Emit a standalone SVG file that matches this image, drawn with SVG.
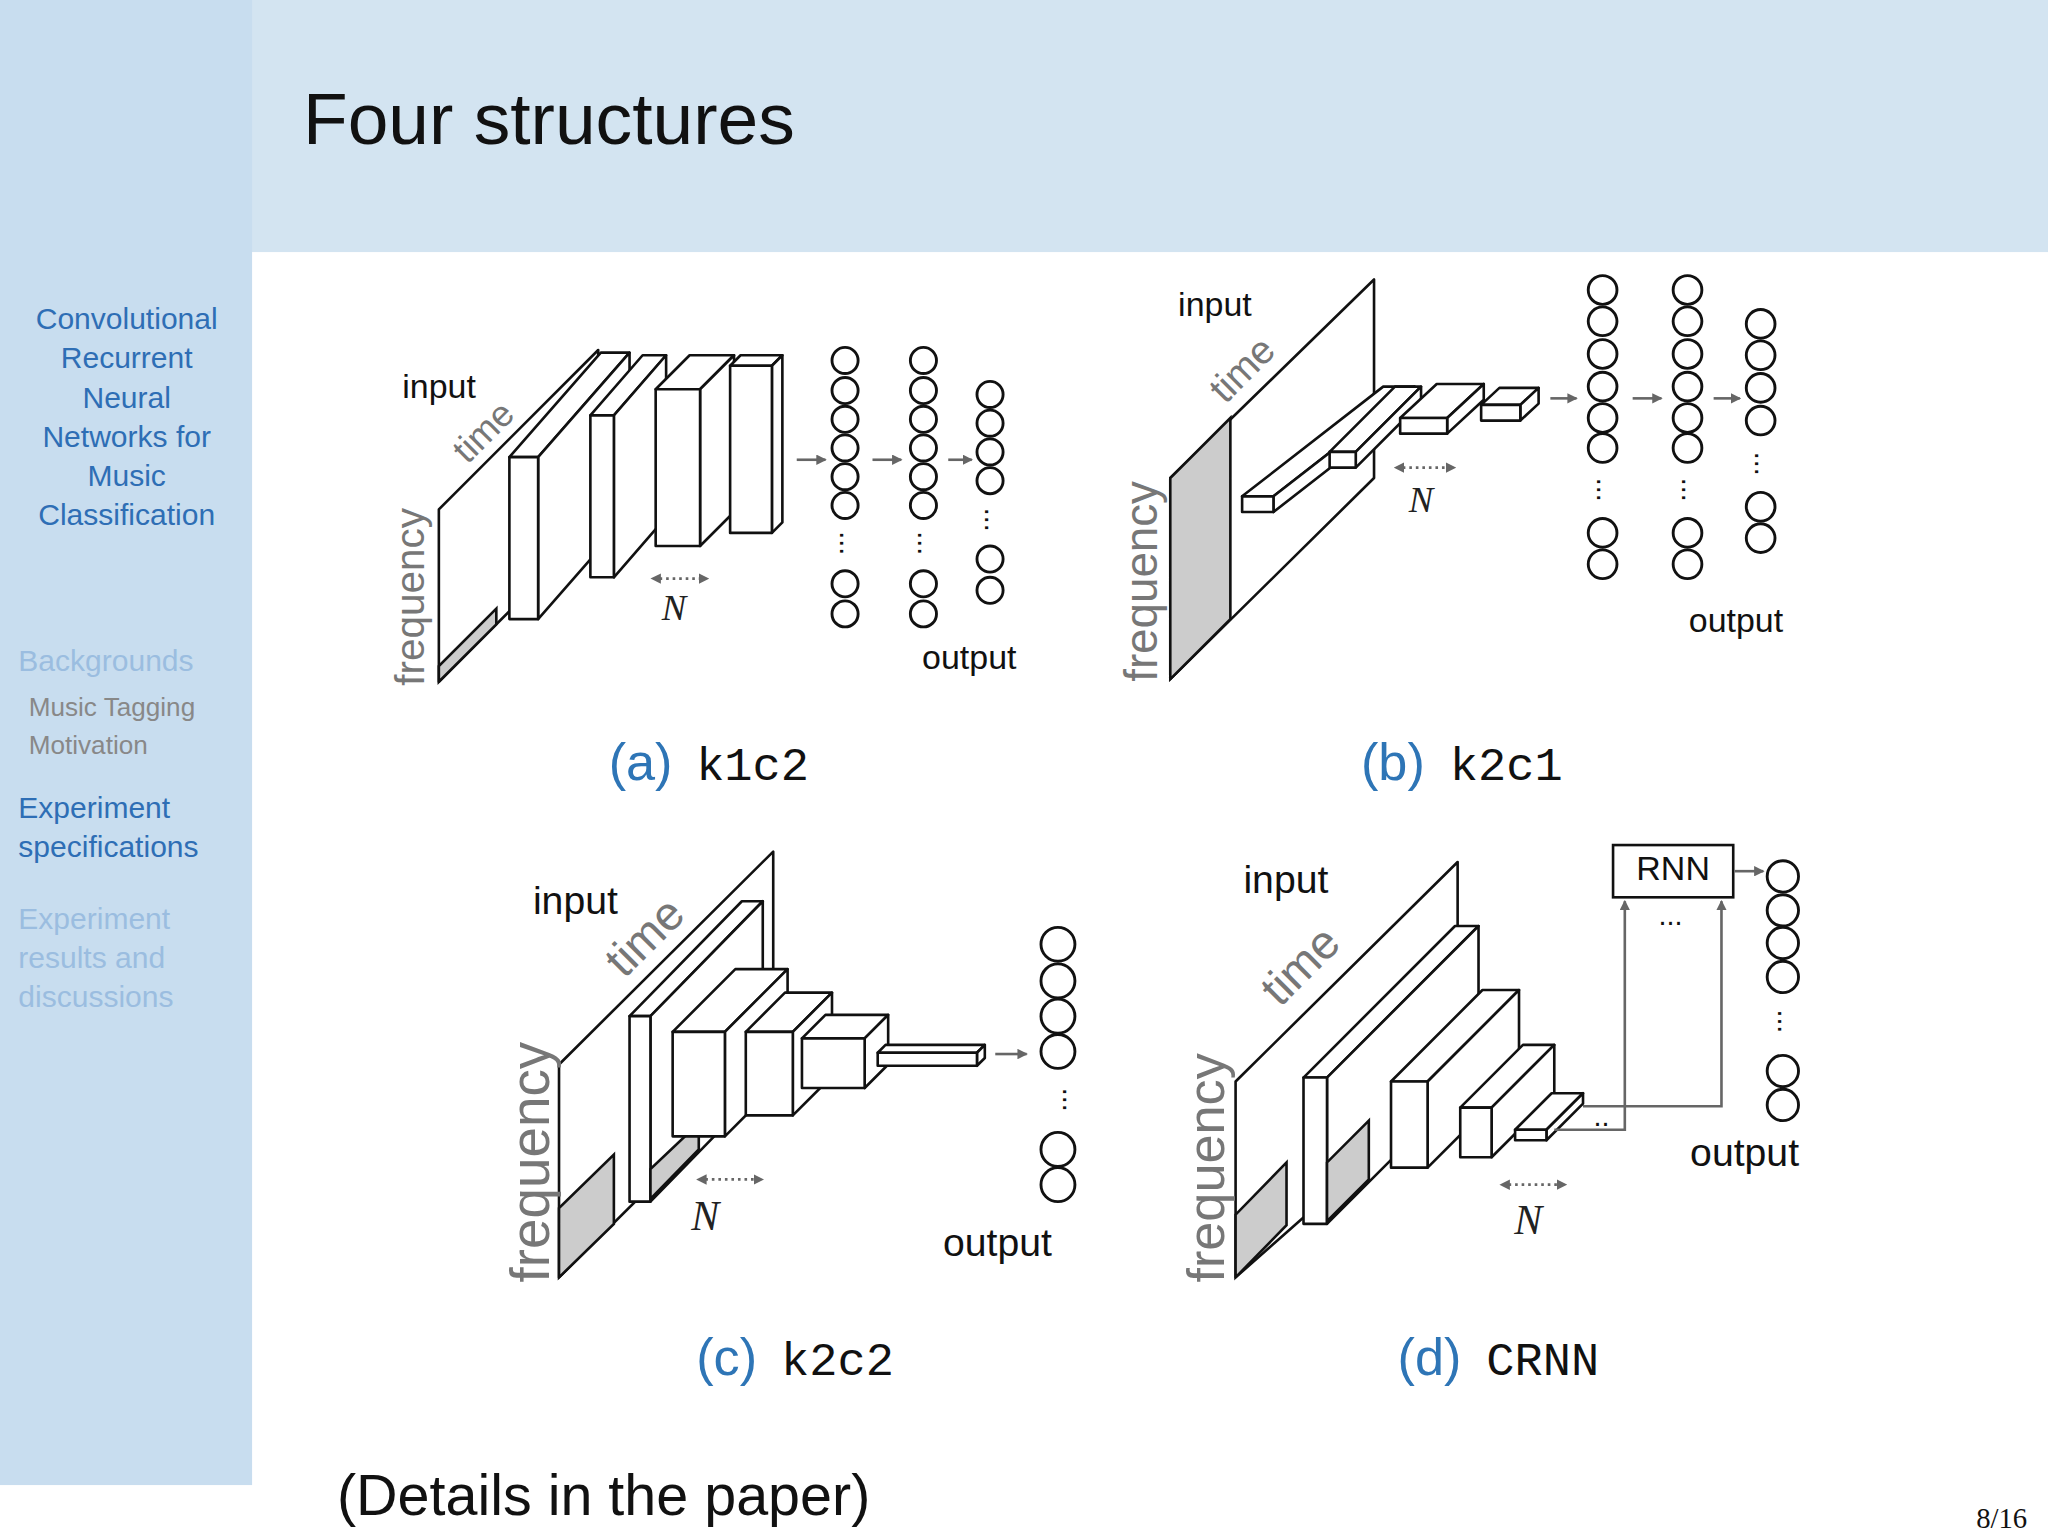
<svg xmlns="http://www.w3.org/2000/svg" width="2048" height="1536" viewBox="0 0 2048 1536">
<defs>
<marker id="ah" markerWidth="8" markerHeight="8" refX="7" refY="4" orient="auto" markerUnits="userSpaceOnUse"><path d="M0,0 L8,4 L0,8 z" fill="#666"/></marker>
<marker id="ahs" markerWidth="8" markerHeight="8" refX="1" refY="4" orient="auto-start-reverse" markerUnits="userSpaceOnUse"><path d="M0,0 L8,4 L0,8 z" fill="#666"/></marker>
<style>
.s{font-family:"Liberation Sans","DejaVu Sans",sans-serif}
.m{font-family:"Liberation Mono",monospace;font-size:36px;fill:#111}
.cap{font-family:"Liberation Sans",sans-serif;font-size:40px;fill:#2e75b6}
.lbl{font-family:"Liberation Sans",sans-serif;font-size:26px;fill:#111}
.rot{font-family:"Liberation Sans",sans-serif;font-size:28px;fill:#777}
.n{font-family:"Liberation Serif",serif;font-style:italic;font-size:28px;fill:#222}
.b{fill:#fff;stroke:#111;stroke-width:2;stroke-linejoin:round}
.g{fill:#ccc;stroke:#111;stroke-width:2}
.c{fill:#fff;stroke:#111;stroke-width:2.2}
.ar{stroke:#666;stroke-width:2;fill:none;marker-end:url(#ah)}
.da{stroke:#666;stroke-width:2;stroke-dasharray:2 3;fill:none;marker-end:url(#ahs);marker-start:url(#ahs)}
.dots{font-family:"Liberation Sans",sans-serif;font-size:22px;fill:#111}
.sb{font-family:"Liberation Sans",sans-serif;font-size:23px}
</style>
</defs>
<g transform="scale(1.30612)">
<rect x="0" y="0" width="1568" height="193" fill="#d3e4f1"/>
<rect x="0" y="0" width="193" height="1137" fill="#c8ddef"/>
<text x="232" y="110" class="s" font-size="56" fill="#111">Four structures</text>
<g class="sb" fill="#2e6eb5" text-anchor="middle">
<text x="97" y="252">Convolutional</text><text x="97" y="282">Recurrent</text><text x="97" y="312">Neural</text><text x="97" y="342">Networks for</text><text x="97" y="372">Music</text><text x="97" y="402">Classification</text>
</g>
<text x="14" y="514" class="sb" fill="#9bbde0">Backgrounds</text>
<text x="22" y="548" class="s" font-size="20" fill="#888">Music Tagging</text>
<text x="22" y="577" class="s" font-size="20" fill="#888">Motivation</text>
<text x="14" y="626" class="sb" fill="#2e6eb5">Experiment</text>
<text x="14" y="656" class="sb" fill="#2e6eb5">specifications</text>
<text x="14" y="711" class="sb" fill="#9bbde0">Experiment</text>
<text x="14" y="741" class="sb" fill="#9bbde0">results and</text>
<text x="14" y="771" class="sb" fill="#9bbde0">discussions</text>

<!-- (a) -->
<g id="a">
<polygon class="b" points="336,522 336,390 458,268 458,400"/>
<polygon class="g" points="336,522 336,510 380,466 380,478"/>
<polygon class="b" points="390,350 412,350 482,270 460,270"/><polygon class="b" points="412,350 482,270 482,394 412,474"/><rect class="b" x="390" y="350" width="22" height="124"/>
<polygon class="b" points="452,318 470,318 510,272 492,272"/><polygon class="b" points="470,318 510,272 510,396 470,442"/><rect class="b" x="452" y="318" width="18" height="124"/>
<polygon class="b" points="502,298 536,298 562,272 528,272"/><polygon class="b" points="536,298 562,272 562,392 536,418"/><rect class="b" x="502" y="298" width="34" height="120"/>
<polygon class="b" points="559,280 591,280 599,272 567,272"/><polygon class="b" points="591,280 599,272 599,400 591,408"/><rect class="b" x="559" y="280" width="32" height="128"/>
<text x="308" y="305" class="lbl">input</text>
<text transform="translate(358,356) rotate(-45)" class="rot">time</text>
<text transform="translate(325,525) rotate(-90)" class="rot" style="font-size:31px">frequency</text>
<line class="ar" x1="610" y1="352" x2="632" y2="352"/><line class="ar" x1="668" y1="352" x2="690" y2="352"/><line class="ar" x1="726" y1="352" x2="744" y2="352"/>
<g class="c"><circle cx="647" cy="276" r="10"/><circle cx="647" cy="299" r="10"/><circle cx="647" cy="321" r="10"/><circle cx="647" cy="343" r="10"/><circle cx="647" cy="365" r="10"/><circle cx="647" cy="387" r="10"/><circle cx="647" cy="447" r="10"/><circle cx="647" cy="470" r="10"/>
<circle cx="707" cy="276" r="10"/><circle cx="707" cy="299" r="10"/><circle cx="707" cy="321" r="10"/><circle cx="707" cy="343" r="10"/><circle cx="707" cy="365" r="10"/><circle cx="707" cy="387" r="10"/><circle cx="707" cy="447" r="10"/><circle cx="707" cy="470" r="10"/>
<circle cx="758" cy="302" r="10"/><circle cx="758" cy="324" r="10"/><circle cx="758" cy="346" r="10"/><circle cx="758" cy="368" r="10"/><circle cx="758" cy="428" r="10"/><circle cx="758" cy="452" r="10"/></g>
<text x="647" y="420" class="dots" text-anchor="middle" transform="rotate(90 647 416)">...</text>
<text x="707" y="420" class="dots" text-anchor="middle" transform="rotate(90 707 416)">...</text>
<text x="758" y="402" class="dots" text-anchor="middle" transform="rotate(90 758 398)">...</text>
<line class="da" x1="505" y1="443" x2="536" y2="443"/>
<text x="516" y="475" class="n" text-anchor="middle">N</text>
<text x="706" y="512" class="lbl">output</text>
<text x="466" y="597" class="cap">(a)</text><text x="533" y="597" class="m">k1c2</text>
</g>

<!-- (b) -->
<g id="b">
<polygon class="b" points="896,520 896,366 1052,214 1052,366"/>
<polygon class="g" points="896,520 896,366 942,320 942,474"/>
<polygon class="b" points="951,380 975,380 1083,296 1059,296"/><polygon class="b" points="975,380 1083,296 1083,308 975,392"/><rect class="b" x="951" y="380" width="24" height="12"/>
<polygon class="b" points="1018,346 1038,346 1088,296 1068,296"/><polygon class="b" points="1038,346 1088,296 1088,308 1038,358"/><rect class="b" x="1018" y="346" width="20" height="12"/>
<polygon class="b" points="1072,320 1108,320 1136,294 1100,294"/><polygon class="b" points="1108,320 1136,294 1136,306 1108,332"/><rect class="b" x="1072" y="320" width="36" height="12"/>
<polygon class="b" points="1134,310 1164,310 1178,297 1148,297"/><polygon class="b" points="1164,310 1178,297 1178,309 1164,322"/><rect class="b" x="1134" y="310" width="30" height="12"/>
<text x="902" y="242" class="lbl">input</text>
<text transform="translate(938,310) rotate(-45)" class="rot" style="font-size:30px">time</text>
<text transform="translate(886,522) rotate(-90)" class="rot" style="font-size:35px">frequency</text>
<line class="ar" x1="1187" y1="305" x2="1207" y2="305"/><line class="ar" x1="1250" y1="305" x2="1272" y2="305"/><line class="ar" x1="1312" y1="305" x2="1332" y2="305"/>
<g class="c"><circle cx="1227" cy="222" r="11"/><circle cx="1227" cy="246" r="11"/><circle cx="1227" cy="271" r="11"/><circle cx="1227" cy="296" r="11"/><circle cx="1227" cy="320" r="11"/><circle cx="1227" cy="343" r="11"/><circle cx="1227" cy="408" r="11"/><circle cx="1227" cy="432" r="11"/>
<circle cx="1292" cy="222" r="11"/><circle cx="1292" cy="246" r="11"/><circle cx="1292" cy="271" r="11"/><circle cx="1292" cy="296" r="11"/><circle cx="1292" cy="320" r="11"/><circle cx="1292" cy="343" r="11"/><circle cx="1292" cy="408" r="11"/><circle cx="1292" cy="432" r="11"/>
<circle cx="1348" cy="248" r="11"/><circle cx="1348" cy="272" r="11"/><circle cx="1348" cy="297" r="11"/><circle cx="1348" cy="322" r="11"/><circle cx="1348" cy="388" r="11"/><circle cx="1348" cy="412" r="11"/></g>
<text x="1227" y="379" class="dots" text-anchor="middle" transform="rotate(90 1227 375)">...</text>
<text x="1292" y="379" class="dots" text-anchor="middle" transform="rotate(90 1292 375)">...</text>
<text x="1348" y="359" class="dots" text-anchor="middle" transform="rotate(90 1348 355)">...</text>
<line class="da" x1="1074" y1="358" x2="1108" y2="358"/>
<text x="1088" y="392" class="n" text-anchor="middle">N</text>
<text x="1293" y="484" class="lbl">output</text>
<text x="1042" y="597" class="cap">(b)</text><text x="1110" y="597" class="m">k2c1</text>
</g>

<!-- (c) -->
<g id="c">
<polygon class="b" points="428,978 428,815 592,652 592,815"/>
<polygon class="g" points="428,978 428,925 470,884 470,937"/>
<polygon class="b" points="482,778 498,778 584,690 568,690"/><polygon class="b" points="498,778 584,690 584,832 498,920"/><rect class="b" x="482" y="778" width="16" height="142"/>
<polygon class="g" points="498,918 535,880 535,860 498,895"/>
<polygon class="b" points="515,790 555,790 603,742 563,742"/><polygon class="b" points="555,790 603,742 603,822 555,870"/><rect class="b" x="515" y="790" width="40" height="80"/>
<polygon class="b" points="571,790 607,790 637,760 601,760"/><polygon class="b" points="607,790 637,760 637,824 607,854"/><rect class="b" x="571" y="790" width="36" height="64"/>
<polygon class="b" points="614,795 662,795 680,777 632,777"/><polygon class="b" points="662,795 680,777 680,815 662,833"/><rect class="b" x="614" y="795" width="48" height="38"/>
<polygon class="b" points="672,806 748,806 754,800 678,800"/><polygon class="b" points="748,806 754,800 754,810 748,816"/><rect class="b" x="672" y="806" width="76" height="10"/>
<text x="408" y="700" class="lbl" style="font-size:30px">input</text>
<text transform="translate(478,750) rotate(-45)" class="rot" style="font-size:36px">time</text>
<text transform="translate(420,982) rotate(-90)" class="rot" style="font-size:42px">frequency</text>
<line class="ar" x1="762" y1="807" x2="786" y2="807"/>
<g class="c"><circle cx="810" cy="723" r="13"/><circle cx="810" cy="751" r="13"/><circle cx="810" cy="778" r="13"/><circle cx="810" cy="805" r="13"/><circle cx="810" cy="880" r="13"/><circle cx="810" cy="907" r="13"/></g>
<text x="818" y="846" class="dots" text-anchor="middle" transform="rotate(90 818 842)">...</text>
<line class="da" x1="540" y1="903" x2="578" y2="903"/>
<text x="540" y="942" class="n" text-anchor="middle" style="font-size:32px">N</text>
<text x="722" y="962" class="lbl" style="font-size:30px">output</text>
<text x="533" y="1053" class="cap">(c)</text><text x="598" y="1053" class="m">k2c2</text>
</g>

<!-- (d) -->
<g id="d">
<polygon class="b" points="946,978 946,828 1116,660 1116,828"/>
<polygon class="g" points="946,978 946,930 985,890 985,938"/>
<polygon class="b" points="998,825 1016,825 1132,709 1114,709"/><polygon class="b" points="1016,825 1132,709 1132,821 1016,937"/><rect class="b" x="998" y="825" width="18" height="112"/>
<polygon class="g" points="1016,935 1048,903 1048,858 1016,890"/>
<polygon class="b" points="1065,828 1093,828 1163,758 1135,758"/><polygon class="b" points="1093,828 1163,758 1163,824 1093,894"/><rect class="b" x="1065" y="828" width="28" height="66"/>
<polygon class="b" points="1118,848 1142,848 1190,800 1166,800"/><polygon class="b" points="1142,848 1190,800 1190,838 1142,886"/><rect class="b" x="1118" y="848" width="24" height="38"/>
<polygon class="b" points="1160,865 1184,865 1212,837 1188,837"/><polygon class="b" points="1184,865 1212,837 1212,845 1184,873"/><rect class="b" x="1160" y="865" width="24" height="8"/>
<text x="1220" y="862" class="dots">..</text>
<path class="ar" d="M1190,865 H1244 V690"/>
<path class="ar" d="M1212,847 H1318 V690"/>
<rect x="1235" y="647" width="92" height="40" fill="#fff" stroke="#111" stroke-width="2"/>
<text x="1281" y="674" class="lbl" text-anchor="middle">RNN</text>
<text x="1279" y="708" class="dots" text-anchor="middle">...</text>
<line class="ar" x1="1328" y1="667" x2="1350" y2="667"/>
<g class="c"><circle cx="1365" cy="671" r="12"/><circle cx="1365" cy="697" r="12"/><circle cx="1365" cy="722" r="12"/><circle cx="1365" cy="748" r="12"/><circle cx="1365" cy="820" r="12"/><circle cx="1365" cy="846" r="12"/></g>
<text x="1365" y="786" class="dots" text-anchor="middle" transform="rotate(90 1365 782)">...</text>
<text x="952" y="684" class="lbl" style="font-size:30px">input</text>
<text transform="translate(980,772) rotate(-45)" class="rot" style="font-size:36px">time</text>
<text transform="translate(937,982) rotate(-90)" class="rot" style="font-size:40px">frequency</text>
<line class="da" x1="1155" y1="907" x2="1193" y2="907"/>
<text x="1170" y="945" class="n" text-anchor="middle" style="font-size:32px">N</text>
<text x="1294" y="893" class="lbl" style="font-size:30px">output</text>
<text x="1070" y="1053" class="cap">(d)</text><text x="1138" y="1053" class="m">CRNN</text>
</g>

<text x="258" y="1160" class="s" font-size="44" fill="#111">(Details in the paper)</text>
<text x="1513" y="1170" font-family="Liberation Serif,serif" font-size="22" fill="#111">8/16</text>
</g>
</svg>
